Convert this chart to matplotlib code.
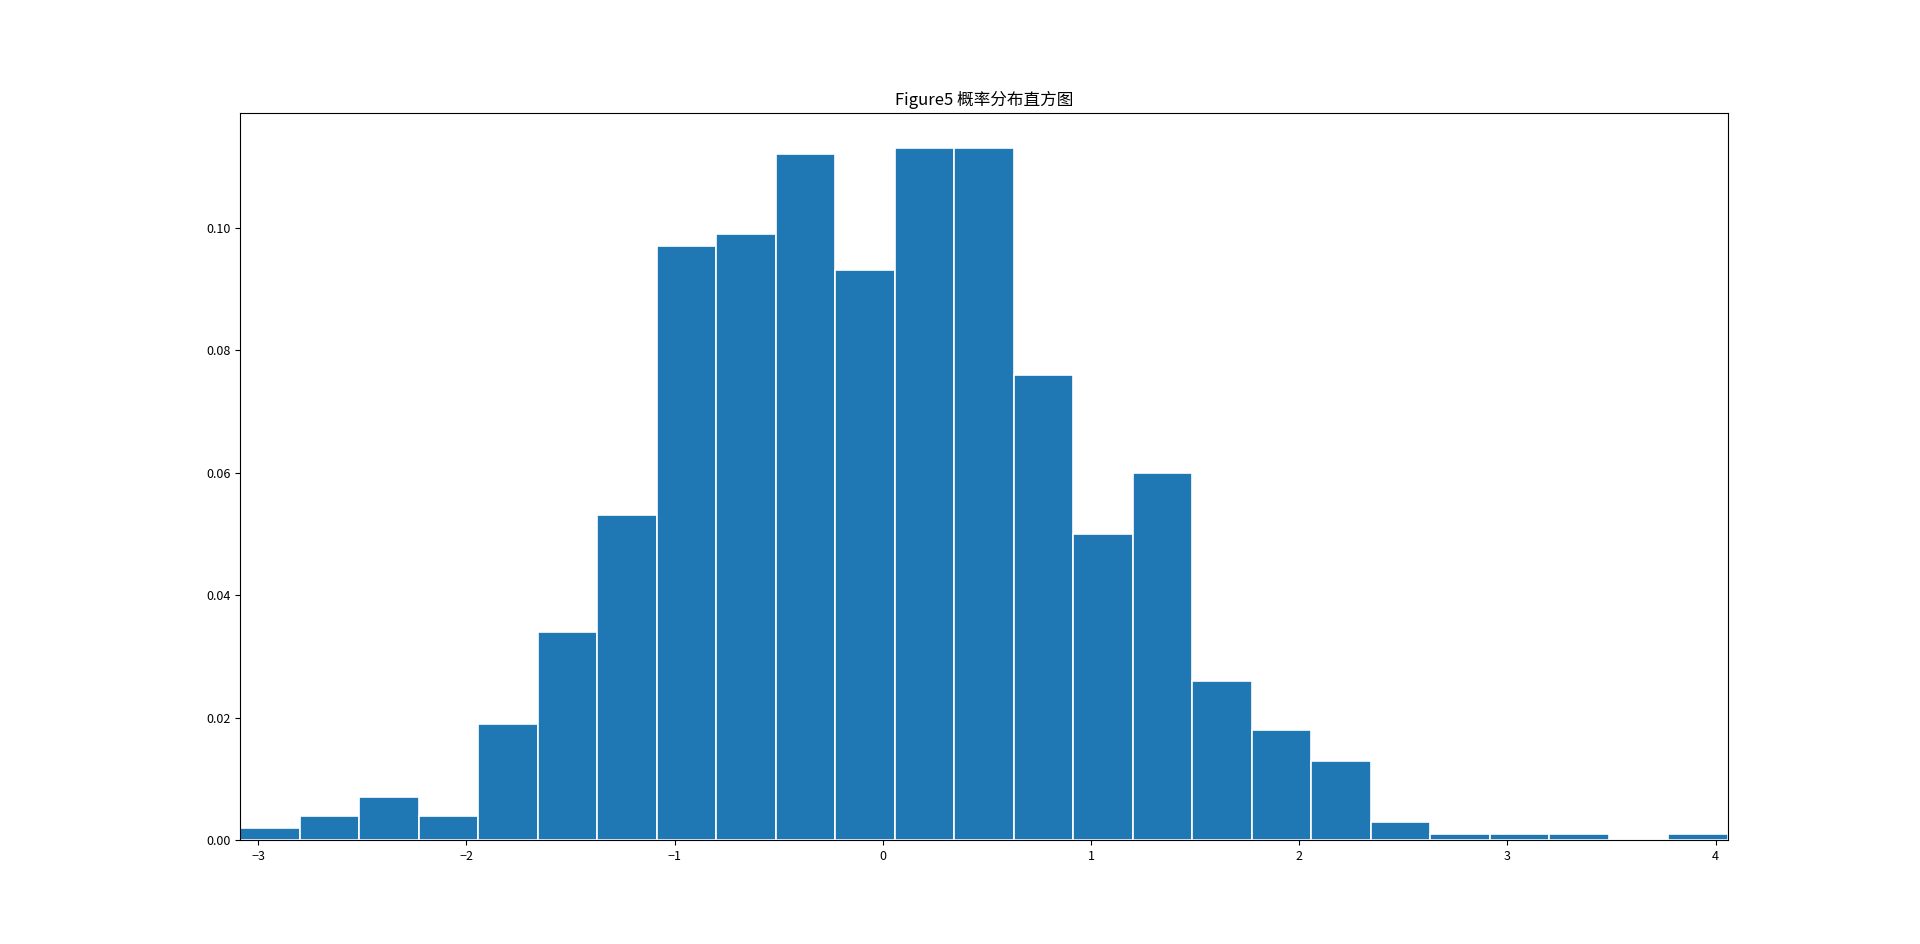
import matplotlib
matplotlib.use("Agg")
import matplotlib.pyplot as plt
import numpy as np

plt.rcParams['font.family'] = ['Noto Sans CJK SC', 'DejaVu Sans']

x_min, x_max = -3.088, 4.06
probs = [0.002, 0.004, 0.007, 0.004, 0.019, 0.034, 0.053, 0.097, 0.099, 0.112,
         0.093, 0.113, 0.113, 0.076, 0.050, 0.060, 0.026, 0.018, 0.013, 0.003,
         0.001, 0.001, 0.001, 0.0, 0.001]
title = "Figure5 概率分布直方图"

edges = np.linspace(x_min, x_max, len(probs) + 1)
fig, ax = plt.subplots(figsize=(19.2, 9.44), dpi=100)
ax.bar(edges[:-1], probs, width=np.diff(edges), align='edge',
       color='#1f77b4', edgecolor='white', linewidth=1.2)
ax.set_xlim(x_min, x_max)
ax.set_title(title)
ax.tick_params(labelsize=9)
fig.savefig("out.png", dpi=100)
